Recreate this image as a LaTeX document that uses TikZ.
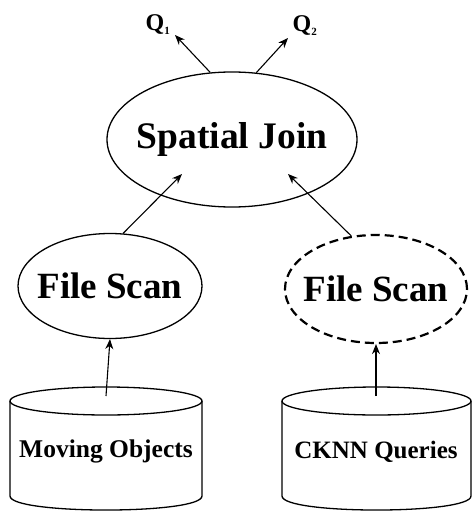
\documentclass[tikz,border=0pt]{standalone}
\usepackage{fontspec}
\setmainfont{Liberation Serif}
\usetikzlibrary{shapes.geometric,arrows.meta}
\begin{document}
\begin{tikzpicture}[x=1pt,y=-1pt,
  line width=1.3pt,
  op/.style={ellipse, draw, inner sep=0pt},
  dashop/.style={op, dash pattern=on 9pt off 5pt, line width=2.2pt},
  oplabel/.style={font=\bfseries\fontsize{#1}{#1}\selectfont, inner sep=0pt},
  arr/.style={-{Stealth[length=10pt,width=8pt]}, line width=1.1pt},
  dbtext/.style={font=\bfseries\fontsize{25.5}{28}\selectfont, inner sep=0pt}]
\useasboundingbox (0,0) rectangle (474,511);
% operators
\node[op, minimum width=250pt, minimum height=135pt,
  label={[oplabel=37.5]center:Spatial Join}] (sj) at (232,139.5) {};
\node[op, minimum width=184pt, minimum height=105pt,
  label={[oplabel=37]center:File Scan}] (fs1) at (110,286) {};
\node[dashop, minimum width=182pt, minimum height=108pt,
  label={[oplabel=37]center:File Scan}] (fs2) at (376,289) {};
% cylinders
\draw (10,401) -- (10,496) .. controls (10,514.7) and (202,514.7) .. (202,496) -- (202,401);
\draw (106,401) ellipse [x radius=96, y radius=14];
\node[dbtext] (mo) at (106,451) {Moving Objects};
\coordinate (motop) at (106,396);
\draw (282,401) -- (282,496) .. controls (282,514.7) and (471,514.7) .. (471,496) -- (471,401);
\draw (376.5,401) ellipse [x radius=94.5, y radius=14];
\node[dbtext, font=\bfseries\fontsize{25}{28}\selectfont] (ck) at (376,452) {CKNN Queries};
\coordinate (cktop) at (376,396);
% outputs
\node[font=\bfseries\fontsize{24}{26}\selectfont, inner sep=0pt] (q1) at (158,25) {Q\textsubscript{\fontsize{11}{11}\selectfont 1}};
\node[font=\bfseries\fontsize{24}{26}\selectfont, inner sep=0pt] (q2) at (305,26) {Q\textsubscript{\fontsize{11}{11}\selectfont 2}};
\coordinate (q1tip) at (175,35);
\coordinate (q2tip) at (288,38);
\coordinate (sjin1) at (182,174);
\coordinate (sjin2) at (288,174);
% connectors
\draw[arr] (motop) -- (fs1.south);
\draw[arr] (cktop) -- (fs2.south);
\draw[arr] (fs1.76) -- (sjin1);
\draw[arr] (fs2.115) -- (sjin2);
\draw[arr] (sj.108) -- (q1tip);
\draw[arr] (sj.70) -- (q2tip);
\end{tikzpicture}
\end{document}
